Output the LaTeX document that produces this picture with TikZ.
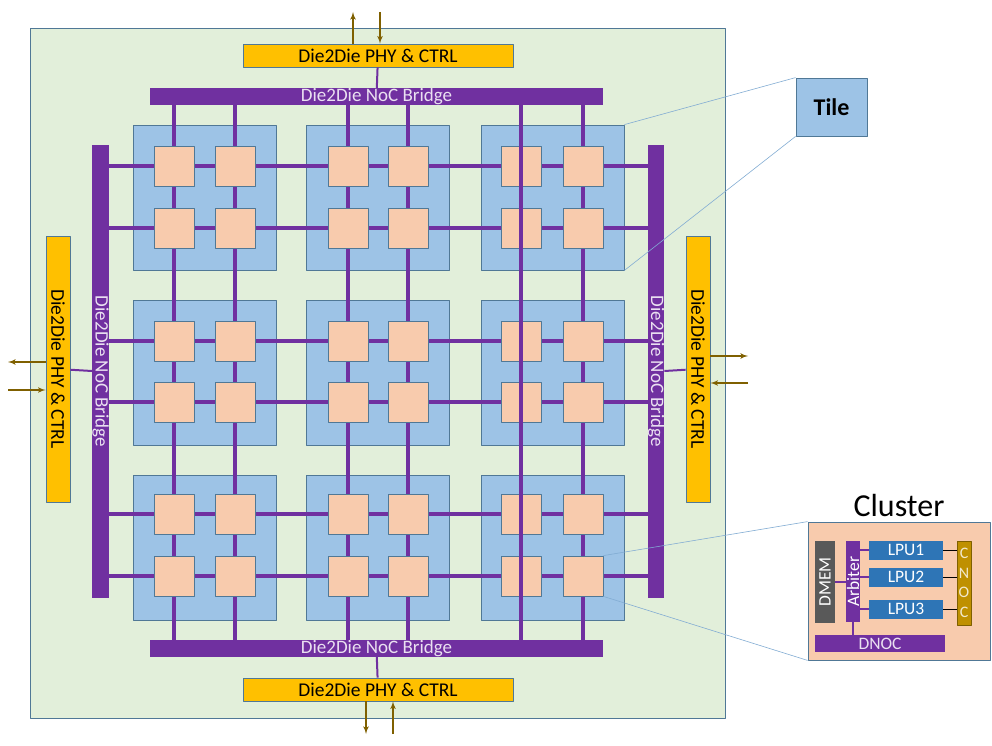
\documentclass[tikz,border=0pt]{standalone}
\usepackage{fontspec}
\setmainfont{Carlito}
\usetikzlibrary{arrows,positioning,calc}
\definecolor{diebg}{RGB}{226,239,218}
\definecolor{tileblue}{RGB}{157,195,230}
\definecolor{peach}{RGB}{248,203,173}
\definecolor{noc}{RGB}{112,48,160}
\definecolor{phy}{RGB}{255,192,0}
\definecolor{io}{RGB}{127,96,0}
\definecolor{edge}{RGB}{80,120,150}
\definecolor{lpu}{RGB}{46,117,182}
\definecolor{cnoc}{RGB}{191,144,0}
\definecolor{dmem}{RGB}{89,89,89}
\tikzset{
  box/.style={draw=edge,line width=0.8pt,inner sep=0pt},
  phyb/.style={box,fill=phy,font=\fontsize{19.5}{20}\selectfont},
  bridge/.style={fill=noc,inner sep=0pt,text=white!85!noc,font=\fontsize{19}{20}\selectfont},
  tile/.style={box,fill=tileblue,minimum width=143pt,minimum height=145pt},
  clus/.style={box,fill=peach,minimum width=40pt,minimum height=40pt},
  link/.style={noc,line width=3.5pt},
  ioarr/.style={io,line width=1.6pt,-latex'},
  callout/.style={lpu!60,line width=0.6pt},
  small/.style={font=\fontsize{17.5}{18}\selectfont},
}
\begin{document}
\begin{tikzpicture}[x=1pt,y=-1pt,>=latex',line join=bevel]
\useasboundingbox (0,0) rectangle (992,746);
%% die
\node (die) at (377.5,373) [box,fill=diebg,minimum width=695pt,minimum height=690pt] {};
%% tiles
\foreach \tx [count=\i] in {204.5,377.5,552.5}
  \foreach \ty [count=\j] in {197.5,372.5,547.5}
    \node (t\i\j) at (\tx,\ty) [tile] {};
%% mesh links
\foreach \y in {166,228,341,402,514,576}
  \draw [link] (100,\y) -- (656,\y);
\foreach \x in {174,235,348,408,583}
  \draw [link] (\x,96) -- (\x,648);
%% clusters
\foreach \cx [count=\i] in {174,235,348,408,521,583}
  \foreach \cy [count=\j] in {166,228,341,402,514,576}
    \node (c\i\j) at (\cx,\cy) [clus] {};
\draw [link] (521,96) -- (521,648);
%% PHYs and bridges
\node (phyT) at (378,55.5) [phyb,minimum width=270pt,minimum height=23pt] {Die2Die PHY \& CTRL};
\node (phyB) at (378,689.5) [phyb,minimum width=270pt,minimum height=23pt] {Die2Die PHY \& CTRL};
\node (phyL) at (58,369) [phyb,minimum width=266pt,minimum height=24pt,rotate=-90] {Die2Die PHY \& CTRL};
\node (phyR) at (698,369) [phyb,minimum width=266pt,minimum height=24pt,rotate=-90] {Die2Die PHY \& CTRL};
\node (brT) at (376.5,96.5) [bridge,minimum width=453pt,minimum height=17pt] {Die2Die NoC Bridge};
\node (brB) at (376.5,648.5) [bridge,minimum width=453pt,minimum height=17pt] {Die2Die NoC Bridge};
\node (brL) at (100.5,371.5) [bridge,minimum width=453pt,minimum height=15pt,rotate=-90] {Die2Die NoC Bridge};
\node (brR) at (656,371.5) [bridge,minimum width=453pt,minimum height=16pt,rotate=-90] {Die2Die NoC Bridge};
\draw [noc,line width=2pt] (phyT) -- (brT);
\draw [noc,line width=2pt] (phyB) -- (brB);
\draw [noc,line width=2pt] (phyL) -- (brL);
\draw [noc,line width=2pt] (phyR) -- (brR);
%% off-die arrows
\coordinate (tu) at (353,12); \coordinate (td) at (380,12);
\coordinate (bd) at (366,734); \coordinate (bu) at (393,734);
\coordinate (lo) at (8,362); \coordinate (li) at (8,390);
\coordinate (ro) at (748,356); \coordinate (ri) at (748,383);
\draw [ioarr] (phyT.north-|tu) -- (tu);
\draw [ioarr] (td) -- (phyT.north-|td);
\draw [ioarr] (phyB.south-|bd) -- (bd);
\draw [ioarr] (bu) -- (phyB.south-|bu);
\draw [ioarr] (phyL.south|-lo) -- (lo);
\draw [ioarr] (li) -- (phyL.south|-li);
\draw [ioarr] (phyR.north|-ro) -- (ro);
\draw [ioarr] (ri) -- (phyR.north|-ri);
%% tile callout
\node (tilebox) at (831.5,107) [box,fill=tileblue,minimum width=71pt,minimum height=58pt,font=\fontsize{24}{24}\selectfont\bfseries] {Tile};
\draw [callout] (t31.north east) -- (tilebox.north west);
\draw [callout] (t31.south east) -- (tilebox.south west);
%% cluster callout
\node (clbox) at (899,591) [box,fill=peach,minimum width=182pt,minimum height=138pt] {};
\node [above=1pt of clbox,font=\fontsize{32}{32}\selectfont] {Cluster};
\draw [callout] (c66.north east) -- (clbox.north west);
\draw [callout] (c66.south east) -- (clbox.south west);
\node (dmem) at (825,582) [fill=dmem,minimum width=20pt,minimum height=82pt,inner sep=0pt] {};
\node [rotate=90,text=white,small] at (dmem) {DMEM};
\node (arb) at (853,581.5) [fill=noc,minimum width=14pt,minimum height=81pt,inner sep=0pt] {};
\node [rotate=90,text=white,small] at (arb) {Arbiter};
\node (cnoc) at (964,583) [box,draw=io,fill=cnoc,minimum width=14pt,minimum height=84pt,text=white!80!cnoc,font=\fontsize{16}{19.5}\selectfont,align=center] {C\\N\\O\\C};
\node (dnoc) at (880,643.5) [fill=noc,minimum width=130pt,minimum height=17pt,inner sep=0pt,text=white!85!noc,small] {DNOC};
\foreach \ly [count=\k] in {550,577,609}
  \node (lpu\k) at (906,\ly) [fill=lpu,minimum width=74pt,minimum height=19pt,inner sep=0pt,text=white,small] {LPU\k};
\foreach \k in {1,2,3} {
  \draw [line width=1pt] (lpu\k.east) -- (cnoc.west|-lpu\k.east);
  \draw [noc,line width=1.5pt] (lpu\k.west) -- (arb.east|-lpu\k.west);
}
\draw [noc,line width=1.5pt] (dmem.east) -- (arb.west|-dmem.east);
\draw [noc,line width=1.5pt] (arb.south) -- (arb.south|-dnoc.north);
\end{tikzpicture}
\end{document}
